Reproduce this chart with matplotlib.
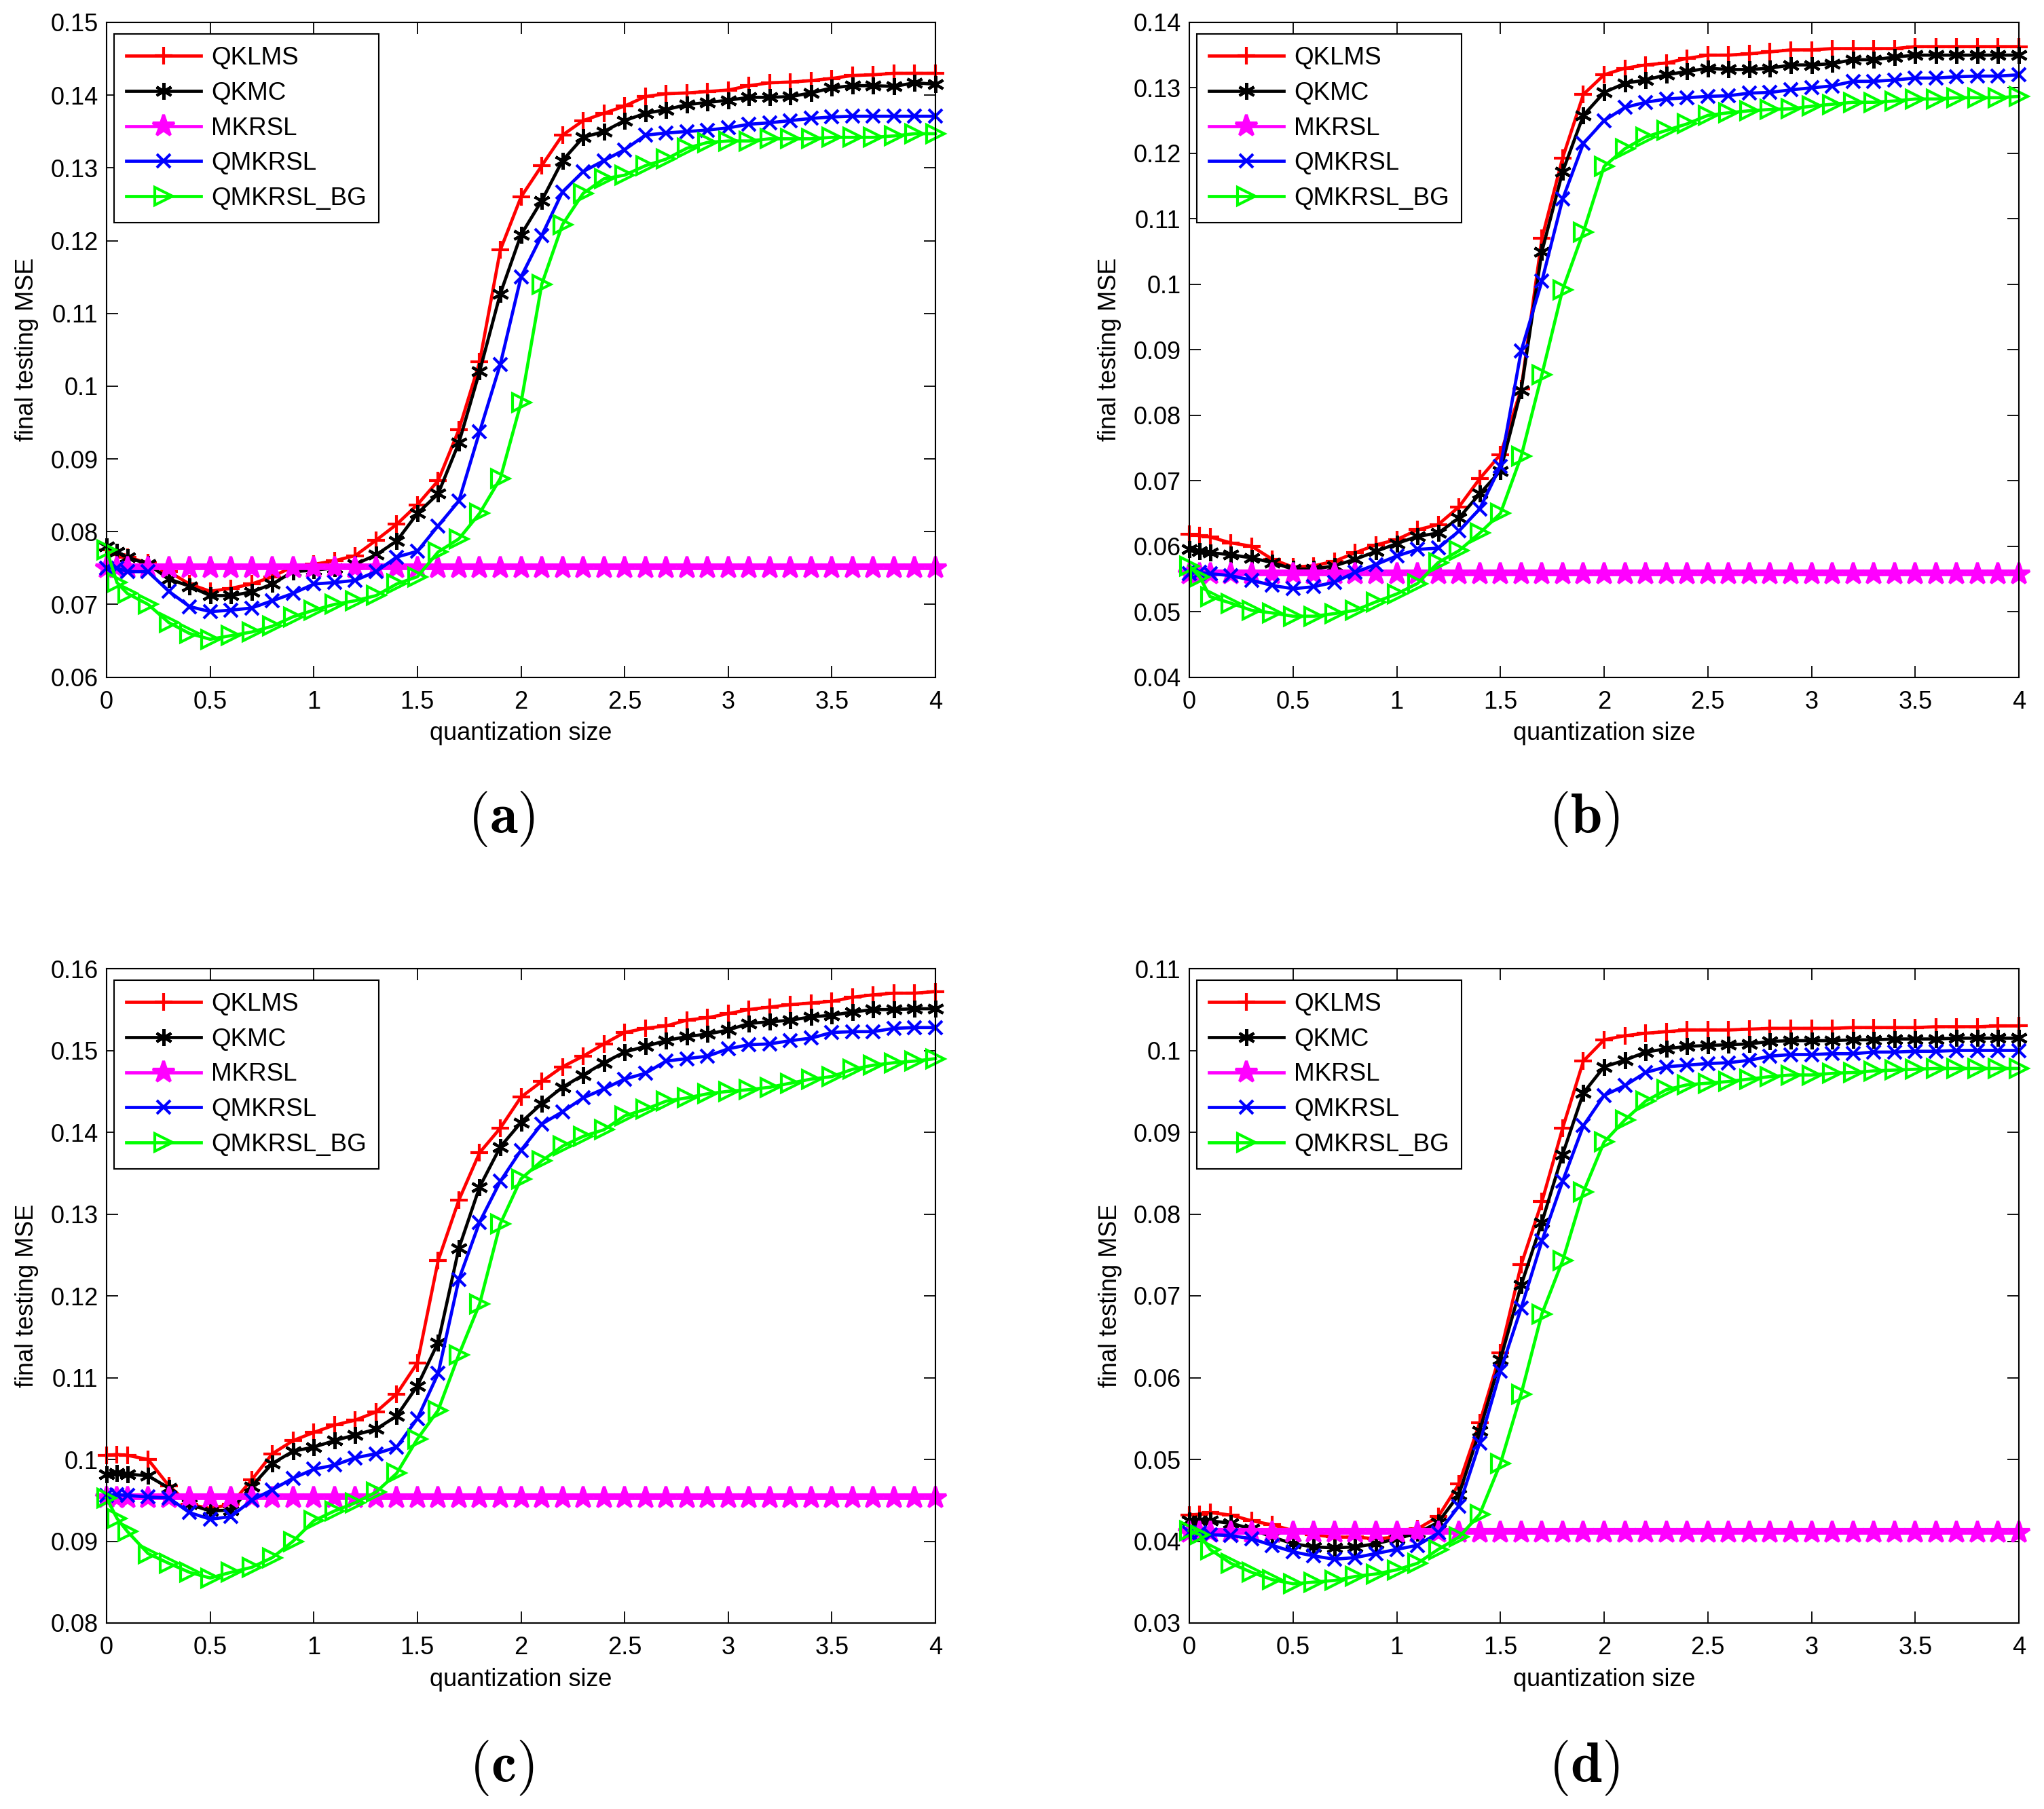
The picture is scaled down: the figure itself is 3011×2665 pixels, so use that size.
import matplotlib
matplotlib.use("Agg")
import matplotlib.pyplot as plt
from matplotlib.ticker import FixedLocator, FuncFormatter

plt.rcParams['font.family'] = ['Liberation Sans', 'DejaVu Sans']
plt.rcParams['mathtext.fontset'] = 'cm'

# ---------------- data ----------------
x = [0, 0.05, 0.1, 0.2, 0.3, 0.4, 0.5, 0.6, 0.7, 0.8, 0.9, 1.0,
     1.1, 1.2, 1.3, 1.4, 1.5, 1.6, 1.7, 1.8, 1.9, 2.0,
     2.1, 2.2, 2.3, 2.4, 2.5, 2.6, 2.7, 2.8, 2.9, 3.0,
     3.1, 3.2, 3.3, 3.4, 3.5, 3.6, 3.7, 3.8, 3.9, 4.0]

series_names = ["QKLMS", "QKMC", "MKRSL", "QMKRSL", "QMKRSL_BG"]

# panel (a)
qklms_a = [0.0775, 0.0768, 0.0765, 0.0757, 0.0745, 0.0728, 0.0718, 0.0722, 0.0728, 0.0738, 0.0752, 0.0755,
           0.0760, 0.0767, 0.0788, 0.0810, 0.0837, 0.0870, 0.0940, 0.1033, 0.1187, 0.1260,
           0.1303, 0.1345, 0.1365, 0.1375, 0.1385, 0.1398, 0.1402, 0.1403, 0.1405, 0.1407,
           0.1413, 0.1417, 0.1418, 0.1420, 0.1423, 0.1427, 0.1428, 0.1430, 0.1430, 0.1430]
qkmc_a = [0.0780, 0.0772, 0.0765, 0.0755, 0.0735, 0.0725, 0.0712, 0.0712, 0.0717, 0.0728, 0.0745, 0.0747,
          0.0750, 0.0755, 0.0768, 0.0787, 0.0825, 0.0852, 0.0922, 0.1020, 0.1127, 0.1208,
          0.1255, 0.1310, 0.1342, 0.1350, 0.1365, 0.1375, 0.1380, 0.1387, 0.1390, 0.1393,
          0.1397, 0.1397, 0.1398, 0.1403, 0.1410, 0.1413, 0.1413, 0.1412, 0.1417, 0.1415]
mkrsl_a = [0.0750] * len(x)
qmkrsl_a = [0.0750, 0.0750, 0.0745, 0.0745, 0.0718, 0.0697, 0.0690, 0.0692, 0.0695, 0.0705, 0.0715, 0.0728,
            0.0730, 0.0733, 0.0745, 0.0765, 0.0773, 0.0808, 0.0842, 0.0937, 0.1030, 0.1150,
            0.1207, 0.1267, 0.1295, 0.1310, 0.1325, 0.1345, 0.1348, 0.1350, 0.1352, 0.1355,
            0.1360, 0.1362, 0.1365, 0.1368, 0.1370, 0.1371, 0.1371, 0.1371, 0.1371, 0.1371]
qmkrslbg_a = [0.0775, 0.0730, 0.0715, 0.0700, 0.0675, 0.0660, 0.0652, 0.0657, 0.0662, 0.0670, 0.0683, 0.0692,
              0.0700, 0.0705, 0.0712, 0.0728, 0.0738, 0.0772, 0.0790, 0.0825, 0.0873, 0.0977,
              0.1140, 0.1222, 0.1265, 0.1285, 0.1290, 0.1303, 0.1312, 0.1327, 0.1335, 0.1337,
              0.1337, 0.1340, 0.1340, 0.1340, 0.1342, 0.1342, 0.1342, 0.1344, 0.1347, 0.1347]

# panel (b)
qklms_b = [0.0618, 0.0616, 0.0614, 0.0605, 0.0600, 0.0580, 0.0568, 0.0570, 0.0577, 0.0590, 0.0602, 0.0610,
           0.0625, 0.0633, 0.0660, 0.0703, 0.0740, 0.0840, 0.1070, 0.1193, 0.1290, 0.1320,
           0.1330, 0.1335, 0.1338, 0.1345, 0.1350, 0.1350, 0.1352, 0.1355, 0.1358, 0.1358,
           0.1360, 0.1360, 0.1360, 0.1360, 0.1363, 0.1363, 0.1363, 0.1363, 0.1363, 0.1363]
qkmc_b = [0.0595, 0.0592, 0.0590, 0.0587, 0.0582, 0.0575, 0.0565, 0.0565, 0.0570, 0.0580, 0.0592, 0.0604,
          0.0615, 0.0620, 0.0643, 0.0680, 0.0715, 0.0838, 0.1050, 0.1172, 0.1258, 0.1293,
          0.1307, 0.1312, 0.1320, 0.1325, 0.1330, 0.1328, 0.1328, 0.1330, 0.1335, 0.1335,
          0.1337, 0.1343, 0.1343, 0.1347, 0.1350, 0.1350, 0.1350, 0.1350, 0.1350, 0.1350]
mkrsl_b = [0.0557] * len(x)
qmkrsl_b = [0.0558, 0.0560, 0.0558, 0.0555, 0.0548, 0.0540, 0.0535, 0.0538, 0.0545, 0.0560, 0.0572, 0.0585,
            0.0595, 0.0597, 0.0623, 0.0657, 0.0722, 0.0898, 0.1005, 0.1130, 0.1215, 0.1250,
            0.1270, 0.1278, 0.1283, 0.1285, 0.1287, 0.1288, 0.1292, 0.1293, 0.1297, 0.1300,
            0.1303, 0.1310, 0.1310, 0.1312, 0.1315, 0.1315, 0.1317, 0.1318, 0.1318, 0.1320]
qmkrslbg_b = [0.0570, 0.0553, 0.0523, 0.0513, 0.0502, 0.0498, 0.0493, 0.0493, 0.0497, 0.0502, 0.0515, 0.0527,
              0.0543, 0.0575, 0.0593, 0.0620, 0.0650, 0.0737, 0.0862, 0.0992, 0.1080, 0.1180,
              0.1207, 0.1225, 0.1235, 0.1245, 0.1258, 0.1262, 0.1265, 0.1267, 0.1268, 0.1272,
              0.1275, 0.1278, 0.1278, 0.1280, 0.1283, 0.1283, 0.1285, 0.1285, 0.1285, 0.1287]

# panel (c)
qklms_c = [0.1005, 0.1006, 0.1005, 0.1000, 0.0968, 0.0945, 0.0940, 0.0945, 0.0975, 0.1007, 0.1023, 0.1033,
           0.1042, 0.1048, 0.1058, 0.1080, 0.1118, 0.1243, 0.1317, 0.1375, 0.1405, 0.1443,
           0.1462, 0.1480, 0.1493, 0.1508, 0.1522, 0.1527, 0.1530, 0.1537, 0.1540, 0.1545,
           0.1550, 0.1553, 0.1556, 0.1558, 0.1560, 0.1565, 0.1568, 0.1570, 0.1570, 0.1572]
qkmc_c = [0.0982, 0.0983, 0.0982, 0.0980, 0.0965, 0.0945, 0.0937, 0.0938, 0.0967, 0.0995, 0.1010, 0.1015,
          0.1023, 0.1030, 0.1037, 0.1053, 0.1090, 0.1143, 0.1258, 0.1333, 0.1382, 0.1412,
          0.1435, 0.1455, 0.1470, 0.1485, 0.1498, 0.1505, 0.1512, 0.1517, 0.1520, 0.1525,
          0.1533, 0.1535, 0.1537, 0.1541, 0.1543, 0.1547, 0.1550, 0.1550, 0.1551, 0.1551]
mkrsl_c = [0.0953] * len(x)
qmkrsl_c = [0.0956, 0.0957, 0.0956, 0.0954, 0.0953, 0.0935, 0.0927, 0.0930, 0.0950, 0.0963, 0.0977, 0.0988,
            0.0993, 0.1002, 0.1007, 0.1015, 0.1050, 0.1105, 0.1220, 0.1290, 0.1340, 0.1378,
            0.1410, 0.1425, 0.1442, 0.1453, 0.1465, 0.1472, 0.1487, 0.1490, 0.1493, 0.1502,
            0.1507, 0.1508, 0.1512, 0.1515, 0.1522, 0.1523, 0.1523, 0.1527, 0.1528, 0.1528]
qmkrslbg_c = [0.0953, 0.0928, 0.0912, 0.0885, 0.0873, 0.0862, 0.0855, 0.0862, 0.0868, 0.0880, 0.0900, 0.0925,
              0.0937, 0.0947, 0.0960, 0.0983, 0.1025, 0.1060, 0.1128, 0.1190, 0.1288, 0.1343,
              0.1365, 0.1383, 0.1395, 0.1403, 0.1420, 0.1428, 0.1438, 0.1442, 0.1447, 0.1450,
              0.1452, 0.1455, 0.1460, 0.1465, 0.1468, 0.1477, 0.1482, 0.1485, 0.1487, 0.1490]

# panel (d)
qklms_d = [0.0432, 0.0433, 0.0435, 0.0432, 0.0425, 0.0420, 0.0413, 0.0408, 0.0405, 0.0405, 0.0403, 0.0405,
           0.0415, 0.0430, 0.0470, 0.0545, 0.0630, 0.0738, 0.0815, 0.0905, 0.0987, 0.1013,
           0.1018, 0.1021, 0.1023, 0.1025, 0.1025, 0.1025, 0.1026, 0.1027, 0.1027, 0.1027,
           0.1027, 0.1028, 0.1028, 0.1028, 0.1028, 0.1029, 0.1029, 0.1029, 0.1030, 0.1030]
qkmc_d = [0.0425, 0.0425, 0.0425, 0.0422, 0.0415, 0.0405, 0.0397, 0.0393, 0.0392, 0.0393, 0.0397, 0.0403,
          0.0410, 0.0423, 0.0457, 0.0535, 0.0622, 0.0713, 0.0790, 0.0873, 0.0948, 0.0980,
          0.0988, 0.0998, 0.1002, 0.1005, 0.1006, 0.1007, 0.1008, 0.1011, 0.1012, 0.1012,
          0.1012, 0.1013, 0.1013, 0.1014, 0.1014, 0.1014, 0.1015, 0.1015, 0.1015, 0.1015]
mkrsl_d = [0.0410] * len(x)
qmkrsl_d = [0.0410, 0.0410, 0.0408, 0.0407, 0.0403, 0.0395, 0.0387, 0.0382, 0.0378, 0.0380, 0.0385, 0.0390,
            0.0395, 0.0410, 0.0443, 0.0520, 0.0608, 0.0685, 0.0767, 0.0840, 0.0908, 0.0945,
            0.0957, 0.0973, 0.0980, 0.0982, 0.0984, 0.0985, 0.0988, 0.0993, 0.0995, 0.0995,
            0.0996, 0.0996, 0.0998, 0.0998, 0.0999, 0.0999, 0.1000, 0.1000, 0.1000, 0.1000]
qmkrslbg_d = [0.0413, 0.0408, 0.0390, 0.0373, 0.0362, 0.0353, 0.0348, 0.0350, 0.0352, 0.0357, 0.0360, 0.0365,
              0.0373, 0.0390, 0.0405, 0.0433, 0.0495, 0.0580, 0.0678, 0.0743, 0.0827, 0.0888,
              0.0915, 0.0938, 0.0952, 0.0958, 0.0960, 0.0962, 0.0965, 0.0968, 0.0970, 0.0970,
              0.0972, 0.0973, 0.0975, 0.0976, 0.0977, 0.0978, 0.0978, 0.0978, 0.0978, 0.0978]

panel_labels = ["(a)", "(b)", "(c)", "(d)"]
y_ticks_a = [0.06, 0.07, 0.08, 0.09, 0.10, 0.11, 0.12, 0.13, 0.14, 0.15]
y_ticks_b = [0.04, 0.05, 0.06, 0.07, 0.08, 0.09, 0.10, 0.11, 0.12, 0.13, 0.14]
y_ticks_c = [0.08, 0.09, 0.10, 0.11, 0.12, 0.13, 0.14, 0.15, 0.16]
y_ticks_d = [0.03, 0.04, 0.05, 0.06, 0.07, 0.08, 0.09, 0.10, 0.11]
x_ticks = [0, 0.5, 1, 1.5, 2, 2.5, 3, 3.5, 4]
x_label = "quantization size"
y_label = "final testing MSE"

panels = [
    ([qklms_a, qkmc_a, mkrsl_a, qmkrsl_a, qmkrslbg_a], y_ticks_a),
    ([qklms_b, qkmc_b, mkrsl_b, qmkrsl_b, qmkrslbg_b], y_ticks_b),
    ([qklms_c, qkmc_c, mkrsl_c, qmkrsl_c, qmkrslbg_c], y_ticks_c),
    ([qklms_d, qkmc_d, mkrsl_d, qmkrsl_d, qmkrslbg_d], y_ticks_d),
]

# ---------------- styles ----------------
colors = ["#ff0000", "#000000", "#ff00ff", "#0000ff", "#00ff00"]
markers = ["+", (6, 2, 0), "*", "x", ">"]
msizes = [19, 18, 24, 15, 19]
mfill = ["none", "none", "#ff00ff", "none", "none"]

W, H = 3011, 2665
fig = plt.figure(figsize=(W / 100, H / 100), dpi=100)

# pixel boxes: left, right, top, bottom
boxes = [(157, 1378, 33, 997.5), (1752, 2974, 33, 997.5),
         (157, 1378, 1427, 2391), (1752, 2974, 1427, 2391)]
label_pos = [(739, 1207), (2333, 1207), (739, 2604), (2333, 2604)]

FS = 26
for idx, ((series, yticks), (l, r, t, b)) in enumerate(zip(panels, boxes)):
    ax = fig.add_axes([l / W, 1 - b / H, (r - l) / W, (b - t) / H])
    for s, name, c, m, ms, mf in zip(series, series_names, colors, markers, msizes, mfill):
        ax.plot(x, s, color=c, lw=3.4, marker=m, markersize=ms, markeredgewidth=3.0,
                markerfacecolor=mf, markeredgecolor=c, label=name, clip_on=False)
    ax.set_xlim(0, 4)
    ax.set_ylim(yticks[0], yticks[-1])
    ax.xaxis.set_major_locator(FixedLocator(x_ticks))
    ax.yaxis.set_major_locator(FixedLocator(yticks))
    ax.xaxis.set_major_formatter(FuncFormatter(lambda v, p: "%g" % v))
    ax.yaxis.set_major_formatter(FuncFormatter(lambda v, p: "%g" % round(v, 4)))
    ax.tick_params(axis='both', which='both', direction='in', length=12, width=1.3,
                   top=True, right=True, labelsize=FS)
    ax.tick_params(axis='x', pad=14)
    ax.tick_params(axis='y', pad=9)
    for sp in ax.spines.values():
        sp.set_linewidth(1.5)
    ax.set_xlabel(x_label, fontsize=FS, labelpad=8)
    ax.set_ylabel(y_label, fontsize=FS, labelpad=12)
    leg = ax.legend(loc='upper left', bbox_to_anchor=(0.0087, 0.9824), borderaxespad=0,
                    fontsize=26.5, fancybox=False, framealpha=1, edgecolor='black',
                    handlelength=3.0, handletextpad=0.4, labelspacing=0.45, borderpad=0.5)
    leg.get_frame().set_linewidth(1.5)
    lx, ly = label_pos[idx]
    fig.text(lx / W, 1 - ly / H, r"$(\mathbf{%s})$" % panel_labels[idx][1], fontsize=60,
             ha='center', va='center')

fig.savefig("out.png", dpi=100)
